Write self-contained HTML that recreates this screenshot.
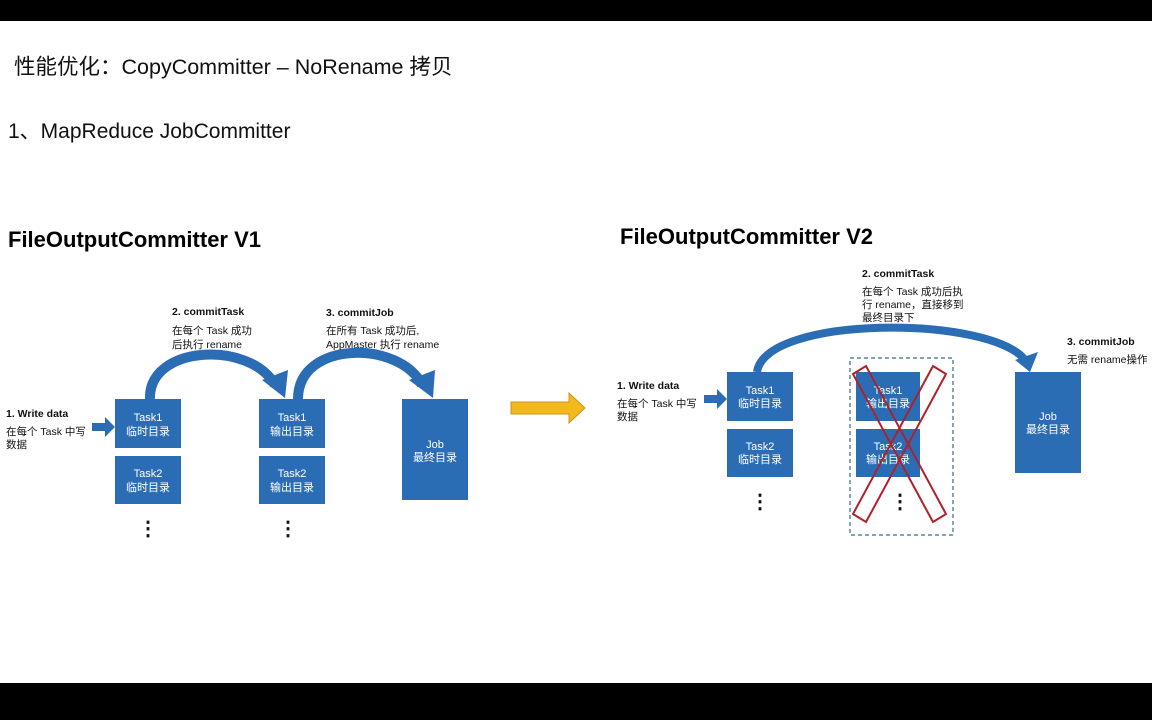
<!DOCTYPE html>
<html><head><meta charset="utf-8"><style>
body{margin:0;width:1152px;height:720px;overflow:hidden;background:#fff}
text{font-family:"Liberation Sans","Noto Sans CJK SC",sans-serif}
</style></head><body>
<svg width="1152" height="720" xmlns="http://www.w3.org/2000/svg">
<rect x="0" y="0" width="1152" height="21" fill="#000"/>
<rect x="0" y="683" width="1152" height="37" fill="#000"/>
<text x="14" y="74" font-size="21.5" fill="#111">性能优化：CopyCommitter – NoRename 拷贝</text>
<text x="8" y="138" font-size="21" fill="#111">1、MapReduce JobCommitter</text>
<text x="8" y="247" font-size="22" font-weight="bold" fill="#000">FileOutputCommitter V1</text>
<text x="620" y="244" font-size="22" font-weight="bold" fill="#000">FileOutputCommitter V2</text>
<g fill="#2a6db5">
<rect x="115" y="399" width="66" height="49"/><rect x="115" y="456" width="66" height="48"/>
<rect x="259" y="399" width="66" height="49"/><rect x="259" y="456" width="66" height="48"/>
<rect x="402" y="399" width="66" height="101"/>
<rect x="727" y="372" width="66" height="49"/><rect x="727" y="429" width="66" height="48"/>
<rect x="856" y="372" width="64" height="49"/><rect x="856" y="429" width="64" height="48"/>
<rect x="1015" y="372" width="66" height="101"/>
</g>
<g fill="#fff" font-size="11" text-anchor="middle">
<text x="148" y="421">Task1</text><text x="148" y="435">临时目录</text>
<text x="148" y="477">Task2</text><text x="148" y="491">临时目录</text>
<text x="292" y="421">Task1</text><text x="292" y="435">输出目录</text>
<text x="292" y="477">Task2</text><text x="292" y="491">输出目录</text>
<text x="435" y="448">Job</text><text x="435" y="461">最终目录</text>
<text x="760" y="394">Task1</text><text x="760" y="407">临时目录</text>
<text x="760" y="450">Task2</text><text x="760" y="463">临时目录</text>
<text x="888" y="394">Task1</text><text x="888" y="407">输出目录</text>
<text x="888" y="450">Task2</text><text x="888" y="463">输出目录</text>
<text x="1048" y="420">Job</text><text x="1048" y="433">最终目录</text>
</g>
<g fill="#111" font-size="20" text-anchor="middle" font-weight="bold">
<text x="148" y="535">⋮</text><text x="288" y="535">⋮</text><text x="760" y="508">⋮</text><text x="900" y="508">⋮</text>
</g>
<rect x="850" y="358" width="103" height="177" fill="none" stroke="#3a6a8a" stroke-width="1.2" stroke-dasharray="4,3"/>
<g fill="none" stroke="#b0202a" stroke-width="2">
<polygon points="853,374 866,366 946,514 933,522"/>
<polygon points="933,366 946,374 866,522 853,514"/>
</g>
<g fill="none" stroke="#2a6db5" stroke-linecap="butt">
<path d="M150 399 C148 345 250 340 275 385" stroke-width="10"/>
<path d="M298 399 C298 340 400 340 422 385" stroke-width="10"/>
<path d="M757 372 C765 315 990 315 1025 360" stroke-width="8"/>
</g>
<g fill="#2a6db5">
<polygon points="262,380 288,370 285,398"/>
<polygon points="409,380 435,370 433,398"/>
<polygon points="1015,360 1038,352 1030,372"/>
<polygon points="92,423 105,423 105,417 115,427 105,437 105,431 92,431"/>
<polygon points="704,395 717,395 717,389 727,399 717,409 717,403 704,403"/>
</g>
<polygon points="511,402 569,402 569,393 585,408 569,423 569,414 511,414" fill="#f2b81c" stroke="#c8961a" stroke-width="1"/>
<g fill="#111" font-size="10.5">
<text x="172" y="315" font-weight="bold">2. commitTask</text>
<text x="172" y="334">在每个 Task 成功</text><text x="172" y="348">后执行 rename</text>
<text x="326" y="316" font-weight="bold">3. commitJob</text>
<text x="326" y="334">在所有 Task 成功后,</text><text x="326" y="348">AppMaster 执行 rename</text>
<text x="6" y="417" font-weight="bold">1.  Write data</text>
<text x="6" y="435">在每个 Task 中写</text><text x="6" y="448">数据</text>
<text x="862" y="277" font-weight="bold">2. commitTask</text>
<text x="862" y="295">在每个 Task 成功后执</text><text x="862" y="308">行 rename，直接移到</text><text x="862" y="321">最终目录下</text>
<text x="1067" y="345" font-weight="bold">3. commitJob</text>
<text x="1067" y="363">无需 rename操作</text>
<text x="617" y="389" font-weight="bold">1.  Write data</text>
<text x="617" y="407">在每个 Task 中写</text><text x="617" y="420">数据</text>
</g>
</svg>
</body></html>
